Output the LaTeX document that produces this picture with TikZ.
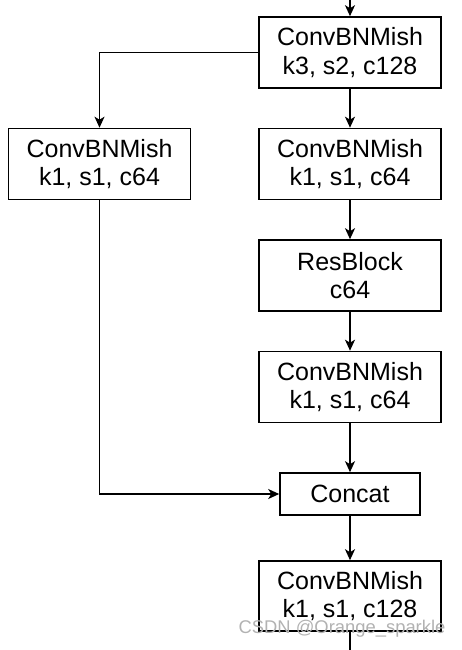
\documentclass[tikz,border=0pt]{standalone}
\usepackage{fontspec}
\setmainfont{Liberation Sans}
\usetikzlibrary{arrows.meta}
\tikzset{
  block/.style={draw, line width=1.6pt, minimum width=182pt, minimum height=71pt,
                align=center, inner sep=0pt, font=\fontsize{25}{28.5}\selectfont},
  flow/.style={line width=1.6pt, -{Stealth[length=11pt,width=10pt,inset=3pt]}},
}
\begin{document}
\begin{tikzpicture}
\useasboundingbox (0pt,0pt) rectangle (461pt,-650pt);
\coordinate (in) at (350pt, 0pt);
\node (down)   at (350pt,  -52.5pt) [block] {ConvBNMish\\k3, s2, c128};
\node (split)  at (99.5pt, -164pt)  [block] {ConvBNMish\\k1, s1, c64};
\node (main)   at (350pt,  -164pt)  [block] {ConvBNMish\\k1, s1, c64};
\node (res)    at (350pt,  -275.5pt) [block] {ResBlock\\c64};
\node (trans)  at (350pt,  -387pt)  [block] {ConvBNMish\\k1, s1, c64};
\node (concat) at (350pt,  -494pt)  [block, minimum width=140pt, minimum height=42pt] {Concat};
\node (fuse)   at (350pt,  -596pt)  [block, minimum height=70pt] {ConvBNMish\\k1, s1, c128};
\coordinate (out) at (350pt, -650pt);
\draw [flow] (in) -- (down);
\draw [flow] (down.west) -| (split.north);
\draw [flow] (down) -- (main);
\draw [flow] (main) -- (res);
\draw [flow] (res) -- (trans);
\draw [flow] (trans) -- (concat);
\draw [flow] (split.south) |- (concat.west);
\draw [flow] (concat) -- (fuse);
\draw [line width=1.6pt] (fuse) -- (out);
\node at (342pt, -629pt) [text=black!30, font=\fontsize{18.4}{20}\selectfont] {CSDN @Orange\_sparkle};
\end{tikzpicture}
\end{document}
